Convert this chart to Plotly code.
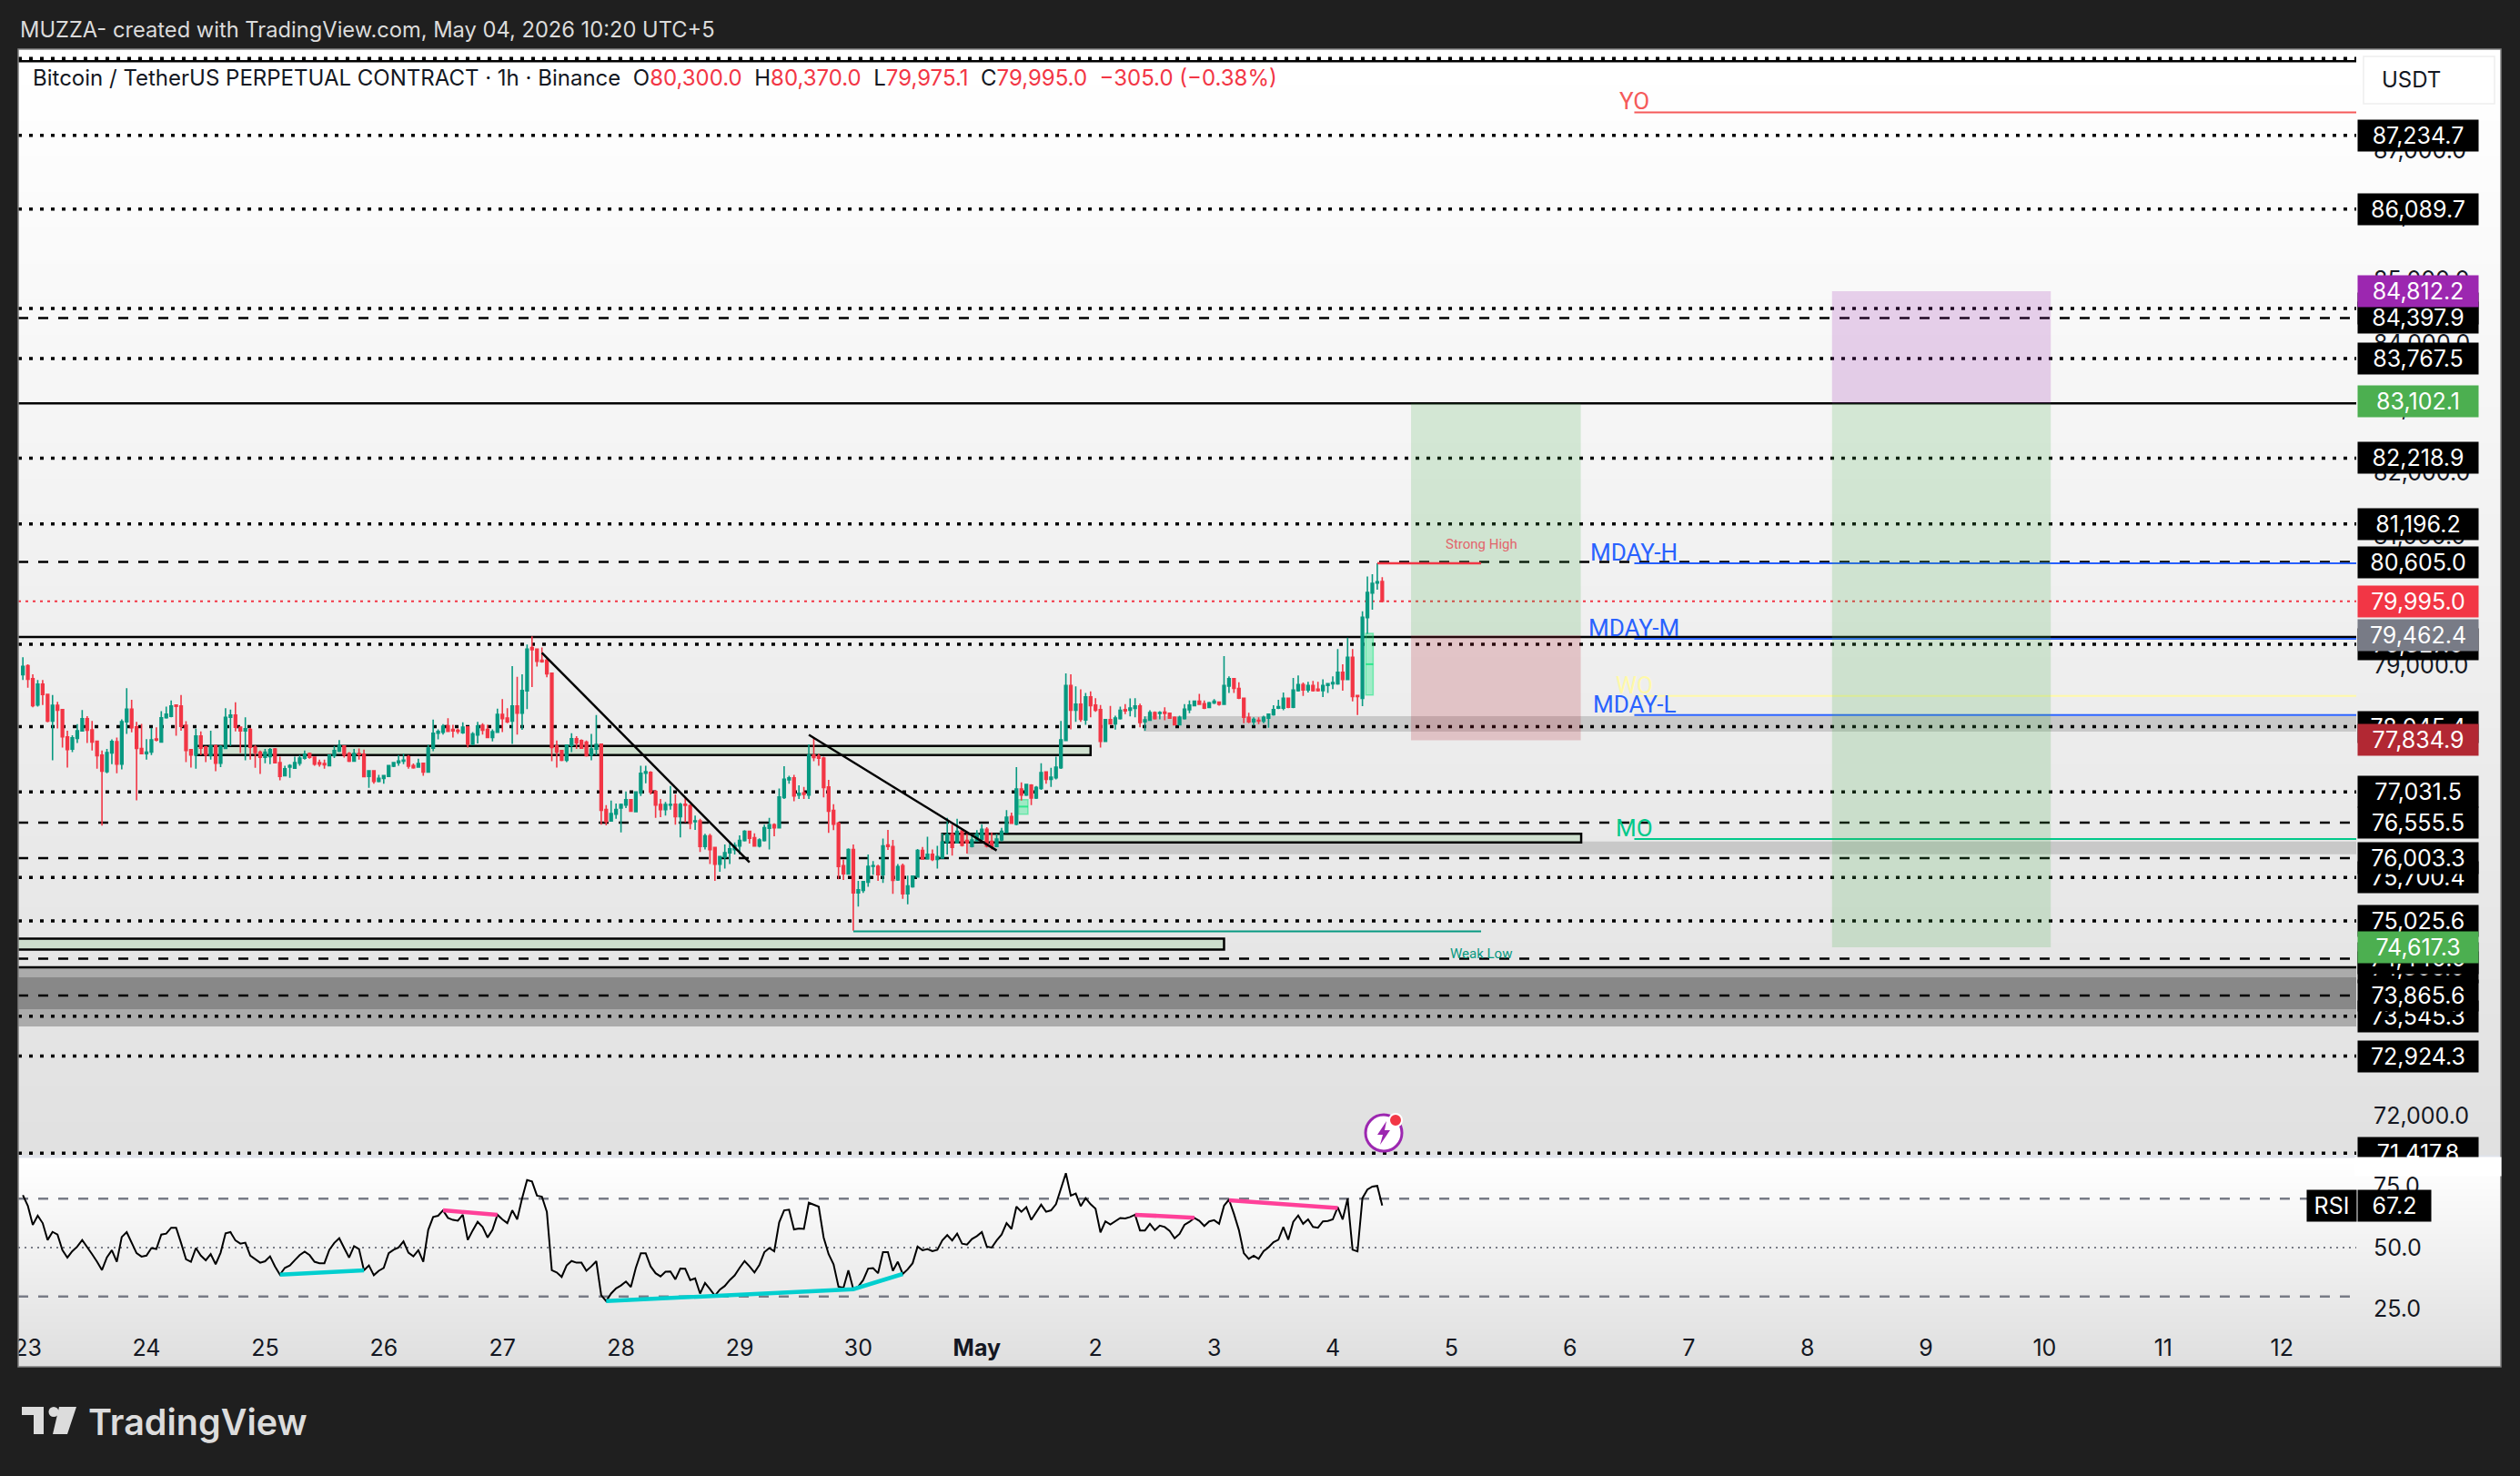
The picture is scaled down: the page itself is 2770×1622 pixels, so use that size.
import pandas as pd

import plotly.graph_objects as go
from plotly.subplots import make_subplots

W, H = 2770, 1622

opens = [
    78852, 78993, 78790, 78381, 78706, 78546, 78131, 78376, 78310, 77886, 77698, 77863,
    77981, 78169, 77995, 77820, 77604, 77345, 77637, 77811, 77463, 78122, 78319, 78042,
    77707, 77627, 77651, 77853, 77806, 78183, 78207, 78381, 78367, 78065, 77689, 77604,
    77901, 77731, 77594, 77745, 77477, 77707, 78192, 78225, 78037, 77981, 78004, 77726,
    77651, 77571, 77580, 77698, 77486, 77284, 77416, 77401, 77477, 77557, 77627, 77571,
    77486, 77472, 77439, 77594, 77665, 77745, 77627, 77510, 77627, 77618, 77274, 77359,
    77194, 77241, 77274, 77430, 77486, 77510, 77580, 77439, 77416, 77477, 77340, 77712,
    77943, 77957, 78061, 78004, 77990, 77952, 78042, 77773, 77915, 78065, 78004, 77877,
    77957, 78235, 78178, 78131, 78367, 78254, 78602, 79275, 79252, 79077, 79077, 78875,
    77745, 77675, 77524, 77755, 77858, 77830, 77806, 77604, 77698, 77773, 76757, 76578,
    76686, 76780, 76827, 76912, 76724, 77015, 77321, 77335, 77039, 76836, 76757, 76827,
    76841, 76648, 76841, 76818, 76568, 76582, 76182, 76347, 76168, 75909, 76018, 76083,
    76135, 76192, 76276, 76418, 76319, 76192, 76276, 76465, 76521, 76474, 76945, 77218,
    77251, 76982, 77015, 76982, 77604, 77585, 77557, 77110, 76743, 76545, 75885, 75754,
    76135, 75462, 75500, 75627, 75876, 75876, 75744, 76206, 76182, 75664, 75885, 75448,
    75556, 75711, 76121, 75994, 76060, 75980, 76003, 76248, 76380, 76239, 76427, 76276,
    76182, 76276, 76295, 76450, 76262, 76182, 76286, 76403, 76648, 76531, 77077, 76982,
    77138, 76935, 77086, 77340, 77227, 77251, 77406, 77830, 78687, 78301, 78395, 78150,
    78508, 78381, 78310, 77816, 78155, 78089, 78169, 78310, 78301, 78329, 78367, 78122,
    78145, 78263, 78253, 78272, 78253, 78192, 78075, 78169, 78310, 78371, 78442, 78404,
    78343, 78414, 78428, 78395, 78677, 78790, 78640, 78489, 78192, 78122, 78145, 78131,
    78178, 78230, 78333, 78333, 78489, 78347, 78606, 78700, 78616, 78686, 78630, 78606,
    78686, 78710, 78710, 78889, 78780, 79124, 78531, 78484, 79741, 80122, 80277, 80300,
]
highs = [
    79125, 79016, 78861, 78771, 78771, 78546, 78536, 78432, 78310, 77981, 77910, 78084,
    78305, 78207, 78136, 77830, 77675, 77698, 77849, 77877, 78159, 78644, 78465, 78122,
    78089, 77853, 78028, 78037, 78287, 78357, 78451, 78381, 78536, 78131, 77689, 78014,
    77971, 77745, 77981, 77769, 77755, 78334, 78310, 78423, 78051, 78192, 78028, 77759,
    77675, 77698, 77712, 77712, 77580, 77439, 77463, 77580, 77604, 77675, 77642, 77580,
    77533, 77533, 77613, 77745, 77839, 77755, 77651, 77698, 77707, 77689, 77368, 77368,
    77298, 77298, 77453, 77496, 77604, 77627, 77604, 77472, 77547, 77486, 77764, 78155,
    78004, 78084, 78178, 78075, 78018, 78112, 78042, 77962, 78122, 78098, 78075, 78004,
    78324, 78475, 78334, 78988, 78819, 78861, 79322, 79449, 79252, 79275, 79110, 78875,
    77830, 77675, 77769, 77943, 77896, 77849, 77830, 77933, 78225, 77783, 76827, 76898,
    76851, 76851, 77039, 76921, 77039, 77439, 77439, 77354, 77062, 76921, 76874, 77124,
    76992, 76860, 76945, 76836, 76662, 76615, 76380, 76380, 76168, 76027, 76215, 76239,
    76248, 76356, 76436, 76427, 76389, 76309, 76521, 76629, 76545, 77086, 77430, 77284,
    77298, 77133, 77110, 77769, 77877, 77627, 77580, 77218, 76841, 76568, 75980, 76154,
    76215, 75650, 75650, 76060, 75956, 75900, 76305, 76441, 76286, 75909, 75918, 75730,
    75730, 76144, 76177, 76333, 76135, 76192, 76389, 76629, 76521, 76615, 76436, 76380,
    76380, 76436, 76530, 76483, 76403, 76380, 76474, 76747, 76709, 77416, 77180, 77157,
    77152, 77124, 77477, 77349, 77406, 77580, 78136, 78875, 78861, 78673, 78625, 78569,
    78593, 78489, 78381, 78159, 78367, 78216, 78357, 78395, 78484, 78489, 78404, 78206,
    78301, 78282, 78286, 78348, 78263, 78206, 78216, 78395, 78451, 78442, 78555, 78451,
    78432, 78475, 78428, 79143, 78828, 78790, 78734, 78489, 78263, 78192, 78192, 78216,
    78239, 78380, 78465, 78578, 78498, 78804, 78842, 78733, 78743, 78757, 78743, 78780,
    78724, 78827, 79251, 79016, 79430, 79251, 78531, 79840, 80381, 80414, 80584, 80370,
]
lows = [
    78771, 78649, 78348, 78357, 78381, 78112, 77524, 78018, 77722, 77411, 77651, 77792,
    77971, 77792, 77675, 77392, 76507, 77321, 77463, 77321, 77383, 77933, 77957, 76902,
    77627, 77533, 77604, 77816, 77802, 78169, 78192, 77905, 77981, 77496, 77411, 77392,
    77604, 77496, 77533, 77354, 77416, 77707, 77745, 77971, 77637, 77524, 77533, 77406,
    77312, 77477, 77463, 77477, 77213, 77274, 77251, 77392, 77439, 77533, 77547, 77439,
    77425, 77392, 77439, 77557, 77651, 77566, 77496, 77500, 77533, 77270, 77095, 77157,
    77180, 77157, 77260, 77416, 77439, 77463, 77392, 77392, 77406, 77284, 77340, 77665,
    77849, 77924, 77971, 77877, 77933, 77933, 77722, 77755, 77783, 77924, 77868, 77816,
    77948, 77962, 78098, 77778, 77924, 77995, 78319, 78663, 78979, 79040, 78814, 77510,
    77411, 77510, 77496, 77651, 77698, 77698, 77580, 77524, 77604, 76521, 76512, 76568,
    76615, 76403, 76780, 76724, 76719, 76968, 77166, 76992, 76629, 76639, 76662, 76757,
    76521, 76323, 76559, 76450, 76441, 76097, 76135, 75909, 75650, 75791, 75838, 75909,
    76060, 76060, 76262, 76229, 76182, 76168, 76262, 76135, 76342, 76465, 76921, 77157,
    76888, 76921, 76921, 76921, 77510, 77439, 76945, 76394, 76436, 75674, 75664, 75744,
    74873, 75250, 75462, 75556, 75744, 75650, 75617, 76130, 75448, 75650, 75368, 75283,
    75542, 75697, 75980, 75980, 75956, 75838, 75994, 76060, 76041, 76229, 76182, 76074,
    76168, 76262, 76248, 76168, 76135, 76177, 76262, 76394, 76531, 76512, 76898, 76968,
    76827, 76921, 77062, 77157, 77110, 77227, 77387, 77830, 78004, 78122, 78122, 78075,
    78192, 78277, 77722, 77816, 78084, 78000, 78155, 78239, 78206, 78192, 78037, 77981,
    78136, 78155, 78159, 78145, 78169, 78065, 78065, 78155, 78253, 78367, 78381, 78319,
    78334, 78395, 78371, 78395, 78569, 78569, 78475, 78098, 78098, 78065, 78084, 78098,
    78027, 78215, 78319, 78300, 78333, 78333, 78592, 78522, 78578, 78592, 78592, 78507,
    78568, 78630, 78696, 78606, 78771, 78437, 78225, 78366, 79487, 79863, 80174, 79975.1,
]
closes = [
    78983, 78781, 78371, 78706, 78546, 78131, 78376, 78301, 77886, 77689, 77872, 77981,
    78169, 77990, 77806, 77594, 77354, 77642, 77816, 77463, 78122, 78319, 78028, 77707,
    77627, 77651, 77839, 77839, 78183, 78239, 78367, 78362, 78051, 77675, 77604, 77901,
    77712, 77604, 77745, 77477, 77736, 78192, 78225, 78037, 77981, 78014, 77726, 77642,
    77571, 77651, 77689, 77486, 77274, 77392, 77439, 77486, 77557, 77618, 77571, 77463,
    77463, 77453, 77604, 77675, 77755, 77604, 77510, 77627, 77613, 77270, 77359, 77194,
    77241, 77284, 77439, 77486, 77510, 77524, 77430, 77406, 77472, 77340, 77712, 77943,
    77971, 78051, 77971, 77981, 77971, 78037, 77773, 77933, 78056, 77990, 77877, 77966,
    78235, 78169, 78122, 78367, 78254, 78607, 79252, 79242, 79063, 79054, 78866, 77722,
    77651, 77524, 77759, 77858, 77792, 77712, 77594, 77698, 77769, 76747, 76568, 76695,
    76757, 76836, 76912, 76733, 77029, 77321, 77345, 77029, 76827, 76757, 76836, 76836,
    76648, 76836, 76822, 76545, 76582, 76182, 76347, 76135, 75909, 76027, 76088, 76145,
    76201, 76276, 76418, 76309, 76192, 76286, 76474, 76521, 76474, 76954, 77227, 77251,
    76968, 77011, 76992, 77604, 77566, 77557, 77100, 76733, 76530, 75871, 75758, 76135,
    75462, 75509, 75636, 75876, 75885, 75744, 76192, 76182, 75655, 75871, 75448, 75570,
    75721, 76121, 75989, 76060, 75980, 76027, 76253, 76370, 76168, 76418, 76201, 76239,
    76286, 76380, 76450, 76192, 76182, 76300, 76418, 76639, 76545, 77077, 76982, 77147,
    76935, 77100, 77331, 77227, 77260, 77416, 77839, 78687, 78301, 78395, 78159, 78508,
    78371, 78301, 77816, 78155, 78089, 78178, 78301, 78291, 78334, 78367, 78112, 78150,
    78263, 78169, 78263, 78253, 78178, 78075, 78192, 78319, 78381, 78442, 78395, 78334,
    78418, 78442, 78395, 78687, 78790, 78640, 78489, 78192, 78122, 78159, 78131, 78192,
    78239, 78310, 78357, 78489, 78347, 78616, 78700, 78616, 78686, 78606, 78606, 78686,
    78714, 78733, 78889, 78780, 79124, 78512, 78512, 79746, 80132, 80273, 80296, 79995,
]
rsi = [
    71.4, 67.1, 59.3, 63.0, 60.0, 53.1, 56.4, 55.3, 48.9, 45.9, 48.5, 50.4,
    53.1, 50.4, 47.3, 44.2, 40.8, 46.0, 48.9, 44.2, 54.3, 56.3, 51.9, 47.7,
    46.3, 46.7, 49.8, 49.4, 55.3, 55.7, 58.1, 58.1, 51.9, 45.2, 44.2, 49.8,
    46.7, 44.8, 47.3, 43.2, 47.9, 55.8, 56.3, 52.9, 51.6, 52.0, 46.7, 45.2,
    43.8, 44.4, 46.4, 42.3, 38.9, 41.7, 42.7, 44.8, 46.9, 48.3, 46.9, 44.2,
    43.6, 43.6, 49.1, 51.9, 53.8, 49.8, 45.9, 50.6, 49.4, 40.7, 42.7, 38.7,
    40.5, 41.7, 47.7, 49.1, 50.0, 52.5, 47.9, 46.4, 48.9, 44.2, 57.2, 62.5,
    63.0, 65.2, 62.1, 61.3, 61.0, 63.4, 53.1, 57.0, 60.5, 58.4, 54.1, 57.2,
    63.4, 61.5, 60.0, 65.2, 61.5, 70.2, 77.6, 77.0, 71.2, 70.8, 64.6, 40.7,
    39.8, 38.0, 42.7, 44.5, 43.8, 43.8, 40.5, 42.3, 44.4, 30.5, 28.1, 31.2,
    33.3, 34.5, 36.1, 33.9, 41.7, 47.7, 47.7, 42.3, 39.5, 38.2, 40.1, 40.2,
    37.0, 41.4, 41.3, 36.7, 37.4, 31.2, 35.5, 33.0, 30.3, 32.8, 34.3, 36.7,
    38.6, 41.7, 44.5, 42.3, 39.8, 42.9, 48.1, 49.8, 48.5, 60.3, 65.2, 65.5,
    57.4, 57.8, 57.6, 68.3, 67.5, 66.7, 54.1, 47.3, 43.2, 34.0, 33.5, 40.7,
    33.0, 34.0, 36.7, 41.4, 41.6, 39.5, 48.1, 48.1, 40.5, 44.2, 39.2, 41.1,
    43.6, 50.4, 48.9, 49.4, 48.5, 49.1, 52.9, 55.1, 52.9, 55.7, 51.6, 51.2,
    53.5, 54.7, 56.3, 50.4, 50.0, 52.9, 55.3, 60.0, 57.6, 66.7, 64.6, 66.5,
    61.3, 64.6, 67.5, 64.6, 65.2, 67.7, 73.9, 80.4, 71.2, 72.1, 66.9, 70.2,
    67.7, 65.9, 56.2, 60.7, 59.4, 60.7, 62.1, 61.9, 62.5, 63.4, 57.0, 57.0,
    59.7, 57.1, 59.0, 58.4, 56.8, 53.8, 55.6, 59.3, 60.5, 62.1, 60.9, 58.8,
    60.7, 61.2, 59.7, 67.1, 69.6, 63.8, 57.2, 47.7, 45.4, 46.7, 45.4, 48.5,
    50.1, 52.2, 53.2, 58.4, 53.2, 60.5, 63.1, 59.7, 61.5, 58.4, 58.1, 60.7,
    60.9, 61.5, 66.5, 61.5, 70.0, 49.1, 48.4, 70.2, 73.7, 74.9, 75.2, 67.2,
]
bar_times = pd.date_range("2026-04-22 23:00", periods=len(closes), freq="h").strftime("%Y-%m-%d %H:%M").tolist()

# rsi divergence segments, as bar numbers into bar_times
teal_segments = [[52, 69], [118, 168, 178]]
teal_values = [[38.9, 40.7], [28.1, 33.0, 39.2]]
pink_segments = [[85, 96], [225, 237], [244, 266]]
pink_values = [[65.2, 63.4], [63.4, 62.2], [69.3, 66.2]]

dotted_levels = [88431, 87234.7, 86089.7, 84546, 83767.5, 82218.9, 81196.2, 79327, 78045.4,
                 77031.5, 75700.4, 75025.6, 73545.3, 72924.3, 71417.8]
dashed_levels = [84397.9, 80605.0, 76555.5, 76003.3, 74440, 73865.6]
solid_levels = [88389, 83070, 79440, 74306]

# price tags, back to front
tag_values = [87234.7, 86089.7, 84546.0, 84397.9, 84812.2, 83767.5, 83102.1, 82218.9, 81196.2,
              80605.0, 79995.0, 79327.0, 79462.4, 78045.4, 77834.9, 77031.5, 76555.5, 75700.4,
              76003.3, 75025.6, 74306.0, 74440.0, 74617.3, 73545.3, 73865.6, 72924.3, 71417.8]
tag_colors = {84812.2: "#9c27b0", 83102.1: "#4caf50", 79995.0: "#f23645", 79462.4: "#787b86",
              77834.9: "#b22833", 74617.3: "#4caf50"}

named_lines = ["YO", "MDAY-H", "MDAY-M", "WO", "MDAY-L", "MO"]
named_prices = [87594, 80585, 79411, 78524, 78225, 76300]
named_colors = ["#f55a5a", "#2962ff", "#2962ff", "#fff9a8", "#2962ff", "#00c98a"]

day_ticks = pd.date_range("2026-04-23", "2026-05-12", freq="D").strftime("%Y-%m-%d").tolist()
day_labels = ["23", "24", "25", "26", "27", "28", "29", "30", "<b>May</b>", "2", "3", "4", "5",
              "6", "7", "8", "9", "10", "11", "12"]
price_ticks = list(range(72000, 88000, 1000))

X_START, X_END = "2026-04-22 22:03", "2026-05-12 15:03"
LINE_START = "2026-05-06 13:00"
UP, DOWN, INK = "#089981", "#f23645", "#131722"
FONT = "Inter"


def px(x):
    return x / W


def py(y):
    return 1 - y / H


def poly(points):
    return "M " + " L ".join(f"{px(a)} {py(b)}" for a, b in points) + " Z"


fig = make_subplots(rows=2, cols=1, shared_xaxes=True)

fig.add_trace(go.Candlestick(
    x=bar_times, open=opens, high=highs, low=lows, close=closes,
    increasing=dict(line=dict(color=UP, width=1.6), fillcolor=UP),
    decreasing=dict(line=dict(color=DOWN, width=1.6), fillcolor=DOWN),
    whiskerwidth=0,
), row=1, col=1)

fig.add_trace(go.Scatter(x=bar_times, y=rsi, mode="lines", line=dict(color="#000000", width=2)), row=2, col=1)
for seg, vals in zip(teal_segments, teal_values):
    fig.add_trace(go.Scatter(x=[bar_times[i] for i in seg], y=vals, mode="lines",
                             line=dict(color="#00cfcf", width=4.5)), row=2, col=1)
for seg, vals in zip(pink_segments, pink_values):
    fig.add_trace(go.Scatter(x=[bar_times[i] for i in seg], y=vals, mode="lines",
                             line=dict(color="#ff4099", width=4.5)), row=2, col=1)


# pane backgrounds
for top, bottom, low in [(54, 1272, 224), (1272, 1502, 222)]:
    steps = 255 - low
    for k in range(steps):
        g = 255 - k
        y0 = top + (bottom - top) * k / steps
        y1 = top + (bottom - top) * (k + 1) / steps + 1
        fig.add_shape(type="rect", xref="paper", yref="paper", x0=px(20), x1=px(2749),
                      y0=py(y0), y1=py(min(y1, bottom)), fillcolor=f"rgb({g},{g},{g})",
                      line_width=0, layer="below")


def band(y0, y1, color, x0=X_START, x1=X_END, line=None, width=0):
    fig.add_shape(type="rect", xref="x", yref="y", x0=x0, x1=x1, y0=y0, y1=y1, fillcolor=color,
                  line=dict(color=line, width=width) if line else dict(width=0), layer="below")


def level(y, dash, color="#000000", width=3.5, x0=X_START, x1=X_END):
    fig.add_shape(type="line", xref="x", yref="y", x0=x0, x1=x1, y0=y, y1=y,
                  line=dict(color=color, width=width, dash=dash), layer="below")


# grey zones
band(73387, 74319, "#ababab")
band(73655, 74150, "#888888")
band(77968, 78209, "#c9c9c9", x0="2026-05-02 09:45")
band(76064, 76262, "#c8c8c8", x0="2026-04-30 22:00")

for p in dotted_levels:
    level(p, "4px,8px")
for p in dashed_levels:
    level(p, "11px,11px", width=2.5)
for p in solid_levels:
    level(p, "solid", width=2.5)
level(79995, "3px,5px", color=DOWN, width=2)

for name, p, c in zip(named_lines, named_prices, named_colors):
    level(p, "solid", color=c, width=2, x0=LINE_START)
    fig.add_annotation(x=LINE_START, y=p, xref="x", yref="y", text=name, showarrow=False, xanchor="center",
                       yanchor="bottom", yshift=-5, font=dict(family="Roboto", size=26, color=c))

# order blocks
band(77604, 77745, "#cfe0cf", x0="2026-04-24 10:00", x1="2026-05-01 23:00", line="#000000", width=2.5)
band(76248, 76380, "#cfe0cf", x0="2026-04-30 17:00", x1="2026-05-06 02:15", line="#000000", width=2.5)
band(74581, 74751, "#ccddcc", x0="2026-04-22 20:00", x1="2026-05-03 02:00", line="#000000", width=2.5)
band(78536, 79496, "rgba(0,230,118,0.32)", x0="2026-05-04 06:40", x1="2026-05-04 08:10", line="rgba(0,230,118,0.45)", width=1.5)
level(79016, "solid", color="rgba(0,230,118,0.7)", width=2, x0="2026-05-04 06:40", x1="2026-05-04 08:10")
band(76686, 76912, "rgba(0,230,118,0.32)", x0="2026-05-01 08:25", x1="2026-05-01 10:20", line="rgba(0,230,118,0.45)", width=1.5)
level(76803, "solid", color="rgba(0,230,118,0.7)", width=2, x0="2026-05-01 08:25", x1="2026-05-01 10:20")

# position tools
band(79462.4, 83070, "rgba(76,175,80,0.2)", x0="2026-05-04 15:50", x1="2026-05-06 02:10")
band(77834.9, 79462.4, "rgba(178,40,51,0.21)", x0="2026-05-04 15:50", x1="2026-05-06 02:10")
band(83070, 84812.2, "rgba(156,39,176,0.2)", x0="2026-05-08 05:00", x1="2026-05-10 01:15")
band(74617.3, 83070, "rgba(76,175,80,0.2)", x0="2026-05-08 05:00", x1="2026-05-10 01:15")

# trend lines and swing markers
fig.add_shape(type="line", xref="x", yref="y", x0="2026-04-27 08:00", x1="2026-04-29 02:00", y0=79195, y1=75937,
              line=dict(color="#000000", width=2.5))
fig.add_shape(type="line", xref="x", yref="y", x0="2026-04-29 14:00", x1="2026-05-01 04:00", y0=77919, y1=76121,
              line=dict(color="#000000", width=2.5))
fig.add_shape(type="line", xref="x", yref="y", x0="2026-04-29 23:00", x1="2026-05-05 06:00", y0=74864, y1=74864,
              line=dict(color=UP, width=2))
fig.add_shape(type="line", xref="x", yref="y", x0="2026-05-04 09:00", x1="2026-05-05 06:00", y0=80585, y1=80585,
              line=dict(color=DOWN, width=2.5))
fig.add_annotation(x="2026-05-05 06:00", y=80585, xref="x", yref="y", text="Strong High", showarrow=False,
                   xanchor="center", yanchor="bottom", yshift=10, font=dict(family="Roboto", size=15, color="#e2656c"))
fig.add_annotation(x="2026-05-05 06:00", y=74864, xref="x", yref="y", text="Weak Low", showarrow=False,
                   xanchor="center", yanchor="top", yshift=-14, font=dict(family="Roboto", size=15, color=UP))

# rsi bands
for v, dash, lw in [(70, "11px,11px", 2.5), (50, "2px,5px", 2), (30, "11px,11px", 2.5)]:
    fig.add_shape(type="line", xref="x2", yref="y2", x0=X_START, x1=X_END, y0=v, y1=v,
                  line=dict(color="#787b86", width=lw, dash=dash), layer="below")

# pane divider, frame, left cover for the clipped first day label
fig.add_shape(type="rect", xref="paper", yref="paper", x0=0, x1=px(20), y0=py(1502), y1=py(54),
              fillcolor="#1f1f1f", line_width=0, layer="above")
fig.add_shape(type="line", xref="paper", yref="paper", x0=px(20), x1=px(2749), y0=py(1271), y1=py(1271),
              line=dict(color="#e0e3eb", width=3))
fig.add_shape(type="rect", xref="paper", yref="paper", x0=px(20), x1=px(2749), y0=py(1502), y1=py(54),
              line=dict(color="#7f7f7f", width=1.5), layer="above")

# price tags
for value in tag_values:
    fig.add_annotation(x=px(2658), y=value, xref="paper", yref="y", xanchor="center", yanchor="middle",
                       text=f"{value:,.1f}", showarrow=False,
                       width=132, height=34, borderpad=0, bgcolor=tag_colors.get(value, "#000000"),
                       font=dict(family=FONT, size=25, color="#ffffff"))
fig.add_annotation(x=px(2669), y=py(1282), xref="paper", yref="paper", xanchor="center", yanchor="middle",
                   text="\u00a0", showarrow=False, width=160, height=20, borderpad=0, bgcolor="#ffffff",
                   font=dict(size=10))
fig.add_annotation(x=px(2563), y=67.2, xref="paper", yref="y2", xanchor="center", yanchor="middle", text="RSI",
                   showarrow=False, width=54, height=34, borderpad=0, bgcolor="#000000",
                   font=dict(family=FONT, size=25, color="#ffffff"))
fig.add_annotation(x=px(2632), y=67.2, xref="paper", yref="y2", xanchor="center", yanchor="middle", text="67.2",
                   showarrow=False, width=80, height=34, borderpad=0, bgcolor="#000000",
                   font=dict(family=FONT, size=25, color="#ffffff"))

# header texts
fig.add_annotation(x=px(20), y=py(33), xref="paper", yref="paper", xanchor="left", yanchor="middle", showarrow=False,
                   text="MUZZA- created with TradingView.com, May 04, 2026 10:20 UTC+5",
                   font=dict(family=FONT, size=23.7, color="#dbdbdb"))
red = f'<span style="color:{DOWN}">'
fig.add_annotation(x=px(34), y=py(86), xref="paper", yref="paper", xanchor="left", yanchor="middle", showarrow=False,
                   text=f"Bitcoin / TetherUS PERPETUAL CONTRACT · 1h · Binance\u00a0\u00a0O{red}80,300.0</span>"
                        f"\u00a0\u00a0H{red}80,370.0</span>\u00a0\u00a0L{red}79,975.1</span>"
                        f"\u00a0\u00a0C{red}79,995.0</span>\u00a0\u00a0{red}−305.0 (−0.38%)</span>",
                   font=dict(family=FONT, size=24, color=INK))

# currency button
fig.add_shape(type="rect", xref="paper", yref="paper", x0=px(2598), x1=px(2742), y0=py(114), y1=py(62),
              fillcolor="#ffffff", line=dict(color="#eeeeee", width=1.5), layer="above")
fig.add_annotation(x=px(2650), y=py(88), xref="paper", yref="paper", xanchor="center", yanchor="middle", text="USDT",
                   showarrow=False, font=dict(family=FONT, size=24, color=INK))

# publication logo
fig.add_shape(type="path", xref="paper", yref="paper", line_width=0, fillcolor="#dcdcdc",
              path=poly([(24, 1546), (48, 1546), (48, 1576), (37, 1576), (37, 1555), (24, 1555)]))
fig.add_shape(type="circle", xref="paper", yref="paper", x0=px(53.5), x1=px(64.5), y0=py(1557), y1=py(1546),
              line_width=0, fillcolor="#dcdcdc")
fig.add_shape(type="path", xref="paper", yref="paper", line_width=0, fillcolor="#dcdcdc",
              path=poly([(65, 1546), (84, 1546), (74, 1576), (58, 1576)]))
fig.add_annotation(x=px(95), y=py(1563), xref="paper", yref="paper", xanchor="left", yanchor="middle", text="TradingView",
                   showarrow=False, font=dict(family=FONT, size=39.5, color="#dcdcdc", weight=600))

# alert badge
fig.add_shape(type="circle", xref="paper", yref="paper", x0=px(1501), x1=px(1541), y0=py(1265), y1=py(1225),
              fillcolor="#ffffff", line=dict(color="#9c27b0", width=3), layer="above")
fig.add_shape(type="path", xref="paper", yref="paper", line_width=0, fillcolor="#9c27b0", layer="above",
              path=poly([(1524, 1232), (1514, 1247), (1520, 1247), (1517, 1258), (1528, 1242), (1522, 1242)]))
fig.add_shape(type="circle", xref="paper", yref="paper", x0=px(1527), x1=px(1541), y0=py(1238), y1=py(1224),
              fillcolor=DOWN, line=dict(color="#ffffff", width=2), layer="above")

fig.update_xaxes(range=[X_START, X_END], domain=[px(20), px(2590)], showgrid=False, zeroline=False,
                 showline=False, rangeslider_visible=False)
fig.update_xaxes(tickvals=day_ticks, ticktext=day_labels, tickfont=dict(family=FONT, size=25, color=INK),
                 ticks="", ticklabelstandoff=14, row=2, col=1)
fig.update_yaxes(side="right", showgrid=False, zeroline=False, showline=False, ticks="", ticklabelstandoff=18,
                 tickfont=dict(family=FONT, size=25, color=INK))
fig.update_yaxes(domain=[py(1272), py(54)], range=[71349, 88576], tickvals=price_ticks, tickformat=",.1f", row=1, col=1)
fig.update_yaxes(domain=[py(1450), py(1272)], range=[20.6, 86.8], tickvals=[25, 50, 75], tickformat=".1f", row=2, col=1)

fig.update_layout(
    width=W, height=H,
    margin=dict(l=0, r=0, t=0, b=0, autoexpand=False),
    paper_bgcolor="#1f1f1f",
    plot_bgcolor="rgba(0,0,0,0)",
    showlegend=False,
    hovermode=False,
    font=dict(family=FONT),
)

# the page's default body margin would push the figure off the window
fig.write_html("out.html", config={"displayModeBar": False}, post_script="document.body.style.margin = '0';")
